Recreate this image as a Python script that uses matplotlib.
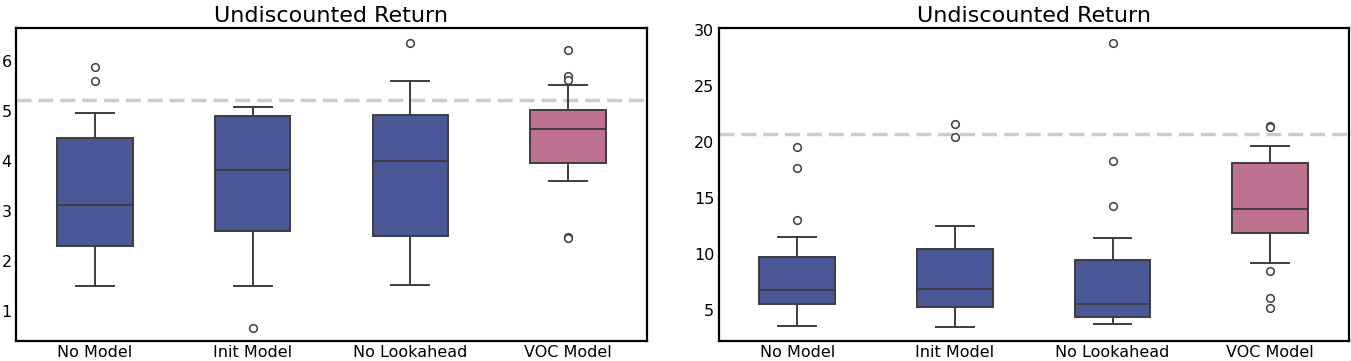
import matplotlib
matplotlib.use("Agg")
import matplotlib.pyplot as plt

categories = ["No Model", "Init Model", "No Lookahead", "VOC Model"]

# left panel: box statistics
left_med = [3.13, 3.83, 4.00, 4.64]
left_q1 = [2.31, 2.60, 2.51, 3.97]
left_q3 = [4.47, 4.90, 4.93, 5.02]
left_lo = [1.51, 1.51, 1.53, 3.61]
left_hi = [4.97, 5.09, 5.61, 5.53]
left_fliers = [[5.88, 5.61], [0.67], [6.37], [6.23, 5.71, 5.63, 2.49, 2.47]]
left_ref = 5.22

# right panel
right_med = [6.76, 6.88, 5.51, 13.99]
right_q1 = [5.51, 5.24, 4.31, 11.85]
right_q3 = [9.73, 10.39, 9.46, 18.10]
right_lo = [3.54, 3.45, 3.75, 9.17]
right_hi = [11.49, 12.47, 11.40, 19.64]
right_fliers = [[19.53, 17.65, 13.0], [21.6, 20.42], [28.9, 18.3, 14.26],
                [21.42, 21.32, 8.42, 6.04, 5.15]]
right_ref = 20.69

colors = ["#4a5897", "#4a5897", "#4a5897", "#c07291"]
edge = "#3d3d3d"


def draw(ax, med, q1, q3, lo, hi, fliers, ref, ylim, yticks):
    stats = []
    for i in range(len(categories)):
        stats.append(dict(med=med[i], q1=q1[i], q3=q3[i], whislo=lo[i],
                          whishi=hi[i], fliers=fliers[i], label=categories[i]))
    bp = ax.bxp(stats, positions=range(len(categories)), widths=0.48,
                patch_artist=True, showfliers=True,
                boxprops=dict(edgecolor=edge, linewidth=1.4),
                medianprops=dict(color=edge, linewidth=1.4),
                whiskerprops=dict(color=edge, linewidth=1.4),
                capprops=dict(color=edge, linewidth=1.4),
                flierprops=dict(marker="o", markerfacecolor="white",
                                markeredgecolor=edge, markersize=5.5,
                                markeredgewidth=1.1))
    for patch, c in zip(bp["boxes"], colors):
        patch.set_facecolor(c)
    # caps half the box width, like seaborn
    for cap in bp["caps"]:
        x = cap.get_xdata()
        m = (x[0] + x[1]) / 2
        cap.set_xdata([m - 0.12, m + 0.12])
    ax.axhline(ref, color="#cccccc", linestyle=(0, (4.3, 2.0)), linewidth=2.5,
               zorder=0.5)
    ax.set_xlim(-0.5, 3.5)
    ax.set_ylim(*ylim)
    ax.set_yticks(yticks)
    ax.set_title("Undiscounted Return", fontsize=16, pad=4)
    ax.tick_params(length=0, labelsize=11.5, pad=3)
    for s in ax.spines.values():
        s.set_linewidth(1.6)
        s.set_color("black")


fig = plt.figure(figsize=(13.51, 3.61), dpi=100)
ax1 = fig.add_axes([16 / 1351, 20 / 361, 631 / 1351, 313 / 361])
ax2 = fig.add_axes([718.5 / 1351, 20 / 361, 630.5 / 1351, 313 / 361])

draw(ax1, left_med, left_q1, left_q3, left_lo, left_hi, left_fliers, left_ref,
     (0.4, 6.66), [1, 2, 3, 4, 5, 6])
draw(ax2, right_med, right_q1, right_q3, right_lo, right_hi, right_fliers,
     right_ref, (2.2, 30.2), [5, 10, 15, 20, 25, 30])

fig.savefig("out.png", dpi=100)
